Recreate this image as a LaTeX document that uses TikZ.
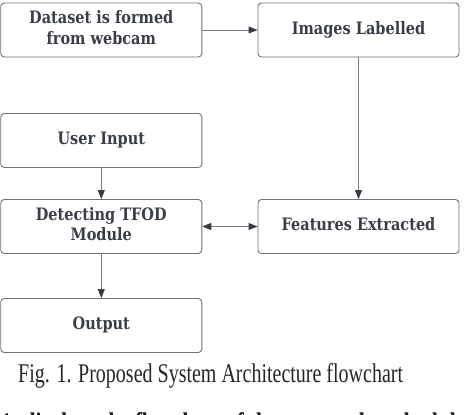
\documentclass[tikz,border=0pt]{standalone}
\usepackage{graphicx}
\usepackage{fontspec}
\setmainfont{Liberation Serif}
\newfontfamily\boxfont{DejaVu Serif}
\usetikzlibrary{arrows.meta}
\definecolor{txt}{HTML}{3A3E48}
\definecolor{bord}{HTML}{6E7178}
\definecolor{lin}{HTML}{7A7D84}
\definecolor{head}{HTML}{3A3D45}
\newcommand\tallbox[2]{\scalebox{1}[#1]{\begin{tabular}{@{}c@{}}#2\end{tabular}}}
\begin{document}
\begin{tikzpicture}[x=1pt,y=-1pt,
  blk/.style={draw=bord,line width=0.9pt,rounded corners=3.5pt,minimum width=201pt,minimum height=54pt,
    align=center,inner sep=0pt,font=\boxfont\bfseries\fontsize{14.5}{17}\selectfont,text=txt},
  conn/.style={draw=lin,line width=0.9pt,-{Triangle[length=9pt,width=7pt,color=head]}},
  conn2/.style={draw=lin,line width=0.9pt,{Triangle[length=9pt,width=7pt,color=head]}-{Triangle[length=9pt,width=7pt,color=head]}}]
\useasboundingbox (0,0) rectangle (474,415);
\fill[white] (0,0) rectangle (474,415);
\node[blk] (a) at (101.3,30) {\tallbox{1.18}{Dataset is formed\\from webcam}};
\node[blk] (b) at (358.5,30) {\tallbox{1.18}{Images Labelled}};
\node[blk] (c) at (101.3,140.5) {\tallbox{1.18}{User Input}};
\node[blk] (d) at (101.3,226.5) {\tallbox{1.18}{Detecting TFOD\\Module}};
\node[blk] (e) at (358.5,226.5) {\tallbox{1.18}{Features Extracted}};
\node[blk] (f) at (101.3,325.5) {\tallbox{1.18}{Output}};
\draw[conn] (a) -- (b);
\draw[conn] (b) -- (e);
\draw[conn] (c) -- (d);
\draw[conn2] (d) -- (e);
\draw[conn] (d) -- (f);
\node[font=\fontsize{20}{22}\selectfont,text=black!85,anchor=base west,inner sep=0pt] (cap) at (18,382) {\scalebox{1}[1.35]{Fig. 1. Proposed System Architecture flowchart}};
\begin{scope}
\clip (0,0) rectangle (474,415);
\node[font=\bfseries\fontsize{21}{24}\selectfont,text=black!90,anchor=base west,inner sep=0pt] (tail) at (1,432) {\scalebox{1}[1.35]{1. displays the flowchart of the proposed method the}};
\end{scope}
\end{tikzpicture}
\end{document}
